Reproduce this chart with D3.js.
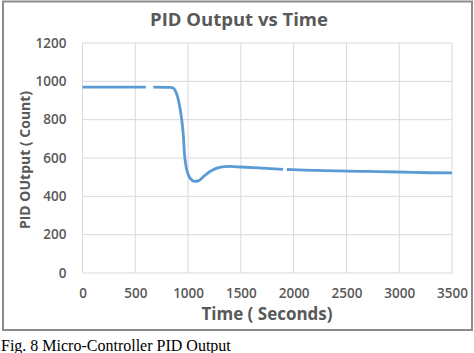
<!DOCTYPE html>
<html>
<head>
<meta charset="utf-8">
<script src="https://cdn.jsdelivr.net/npm/d3@7"></script>
<style>
  body { margin: 0; background: #fff; }
  svg { display: block; }
</style>
</head>
<body>
<div id="chart"></div>
<script>
// readings: time (s) and PID output (count), null = gap in the trace
const times = [0, 300, 600, 640, 670, 830, 860, 880, 900, 920, 940, 955, 966, 980, 1000,
  1030, 1060, 1100, 1150, 1200, 1250, 1300, 1350, 1400, 1500, 1700, 1900, 1918, 1935,
  2100, 2400, 2700, 3000, 3300, 3500];
const outputs = [970, 970, 970, null, 970, 969, 965, 950, 920, 870, 800, 720, 620, 560, 515,
  488, 478, 482, 505, 527, 542, 551, 555, 556, 553, 547, 541, null, 540,
  537, 533, 530, 527, 523, 522];
const xTicks = [0, 500, 1000, 1500, 2000, 2500, 3000, 3500];
const yTicks = [0, 200, 400, 600, 800, 1000, 1200];

const W = 474, H = 353;
const pLeft = 82.5, pRight = 452, pTop = 43, pBottom = 273;

let svg = d3.select("#chart").append("svg")
    .attr("width", W)
    .attr("height", H);

// outer frame
svg.append("rect")
    .attr("x", 3).attr("y", 1.5)
    .attr("width", 469).attr("height", 328.5)
    .attr("fill", "none")
    .attr("stroke", "#8c8c8c")
    .attr("stroke-width", 2);

// scales
var xScale = d3.scaleLinear().domain([0, 3500]).range([pLeft, pRight]);
var yScale = d3.scaleLinear().domain([0, 1200]).range([pBottom, pTop]);

// grid
svg.append("g")
    .selectAll("line")
    .data(xTicks)
    .join("line")
    .attr("x1", d => xScale(d)).attr("x2", d => xScale(d))
    .attr("y1", pTop).attr("y2", pBottom)
    .attr("stroke", "#d9d9d9").attr("stroke-width", 1);
svg.append("g")
    .selectAll("line")
    .data(yTicks)
    .join("line")
    .attr("x1", pLeft).attr("x2", pRight)
    .attr("y1", d => yScale(d)).attr("y2", d => yScale(d))
    .attr("stroke", "#d9d9d9").attr("stroke-width", 1);

// axes (labels only)
let xAxis = svg.append("g")
    .attr("transform", `translate(0,${pBottom + 12})`)
    .call(d3.axisBottom(xScale).tickValues(xTicks).tickSize(0).tickFormat(d3.format("d")));
let yAxis = svg.append("g")
    .attr("transform", `translate(${pLeft - 13},0)`)
    .call(d3.axisLeft(yScale).tickValues(yTicks).tickSize(0).tickFormat(d3.format("d")));
[xAxis, yAxis].forEach(a => {
    a.select(".domain").remove();
    a.selectAll("text")
        .attr("fill", "#595959")
        .style("font-family", "'Open Sans', sans-serif")
        .style("font-size", "13.5px")
        .style("font-weight", 600);
});

// data line
let pts = times.map((t, i) => [t, outputs[i]]);
let line = d3.line()
    .defined(d => d[1] !== null)
    .curve(d3.curveMonotoneX)
    .x(d => xScale(d[0]))
    .y(d => yScale(d[1]));
svg.append("path")
    .datum(pts)
    .attr("d", line)
    .attr("fill", "none")
    .attr("stroke", "#5b9bd5")
    .attr("stroke-width", 2.8);

// titles
svg.append("text")
    .attr("x", 239).attr("y", 26)
    .attr("text-anchor", "middle")
    .attr("fill", "#595959")
    .style("font-family", "'Open Sans', sans-serif")
    .style("font-size", "18.5px")
    .style("font-weight", 700)
    .text("PID Output vs Time");

svg.append("text")
    .attr("x", 267).attr("y", 320)
    .attr("text-anchor", "middle")
    .attr("fill", "#595959")
    .style("font-family", "'Open Sans', sans-serif")
    .style("font-size", "17px")
    .style("font-weight", 700)
    .text("Time ( Seconds)");

svg.append("text")
    .attr("transform", "translate(30,160) rotate(-90)")
    .attr("text-anchor", "middle")
    .attr("fill", "#595959")
    .style("font-family", "'Open Sans', sans-serif")
    .style("font-size", "14px")
    .style("font-weight", 700)
    .text("PID OUtput ( Count)");

// caption
svg.append("text")
    .attr("x", 1).attr("y", 351)
    .attr("fill", "#000")
    .style("font-family", "'Liberation Serif', serif")
    .style("font-size", "16px")
    .text("Fig. 8 Micro-Controller PID Output");
</script>
</body>
</html>
